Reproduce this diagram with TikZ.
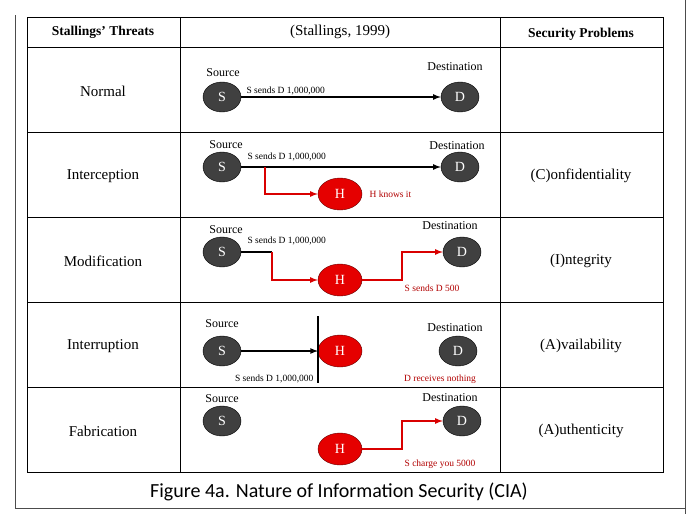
\documentclass[tikz,border=0pt]{standalone}
\usepackage{fontspec}
\setmainfont{Liberation Serif}
\newfontfamily\capfont{Carlito}
\begin{document}
\begin{tikzpicture}[x=1pt,y=-1pt,
  nd/.style={ellipse,draw=black,fill=black!75,text=white,minimum width=38,minimum height=30,inner sep=0,font=\fontsize{14}{14}\selectfont},
  hn/.style={ellipse,draw=black!60!red,fill=red!90!black,text=white,minimum width=44,minimum height=32,inner sep=0,font=\fontsize{14}{14}\selectfont},
  lab/.style={font=\fontsize{12}{12}\selectfont},
  sm/.style={font=\fontsize{9.5}{9.5}\selectfont},
  smr/.style={font=\fontsize{9.5}{9.5}\selectfont,text=red!70!black},
  bl/.style={line width=1.6pt,-latex},
  rd/.style={line width=1.6pt,red!85!black,-latex},
  cell/.style={font=\fontsize{15}{15}\selectfont}]
\usetikzlibrary{shapes.geometric}
\useasboundingbox (0,0) rectangle (700,514);
\fill[white] (0,0) rectangle (700,514);
% outer frame
\draw[black!70] (15,15) -- (15,508) -- (685,508);
\draw[black!70] (685,0) -- (685,514);
% table
\draw[line width=0.8pt] (27,17) rectangle (663,472);
\foreach \x in {180,500} \draw[line width=0.8pt] (\x,17) -- (\x,472);
\foreach \y in {47,132,217,302,387} \draw[line width=0.8pt] (27,\y) -- (663,\y);
\node[cell,font=\bfseries\fontsize{13.5}{13.5}\selectfont] (h1) at (103,32) {Stallings’ Threats};
\node[cell] (h2) at (340,32) {(Stallings, 1999)};
\node[cell,font=\bfseries\fontsize{13.5}{13.5}\selectfont] (h3) at (581,34) {Security Problems};
\node[cell] (r1) at (103,91) {Normal};
\node[cell] (r2) at (103,176) {Interception};
\node[cell] (r3) at (103,261) {Modification};
\node[cell] (r4) at (103,346) {Interruption};
\node[cell] (r5) at (103,431) {Fabrication};
\node[cell] (p2) at (581,176) {(C)onfidentiality};
\node[cell] (p3) at (581,261) {(I)ntegrity};
\node[cell] (p4) at (581,346) {(A)vailability};
\node[cell] (p5) at (581,431) {(A)uthenticity};
% Normal
\node[nd] (s1) at (222,97) {S};
\node[nd] (d1) at (460,97) {D};
\node[lab] (ls1) at (223,73) {Source};
\node[lab] (ld1) at (455,67) {Destination};
\draw[bl] (s1) -- (d1);
\node[sm,anchor=west] (t1) at (243,91) {S sends D 1,000,000};
% Interception
\node[nd] (s2) at (222,167) {S};
\node[nd] (d2) at (460,167) {D};
\node[hn] (h2n) at (340,194) {H};
\node[lab] (ls2) at (226,145) {Source};
\node[lab] (ld2) at (457,146) {Destination};
\draw[bl] (s2) -- (d2);
\node[sm,anchor=west] (t2) at (244,157) {S sends D 1,000,000};
\coordinate (c2) at (265,167);
\draw[rd] (c2) |- (h2n);
\node[smr,anchor=west] (k2) at (366,194) {H knows it};
% Modification
\node[nd] (s3) at (222,252) {S};
\node[hn] (h3n) at (340,280) {H};
\node[nd] (d3) at (462,252) {D};
\node[lab] (ls3) at (226,230) {Source};
\node[lab] (ld3) at (450,226) {Destination};
\node[sm,anchor=west] (t3) at (244,241) {S sends D 1,000,000};
\coordinate (c3) at (272,252);
\draw[line width=1.6pt] (s3) -- (c3);
\draw[rd] (c3) |- (h3n);
\coordinate (c3b) at (402,280);
\draw[rd] (h3n) -- (c3b) |- (d3);
\node[smr] (k3) at (432,288) {S sends D 500};
% Interruption
\node[nd] (s4) at (222,351) {S};
\node[hn] (h4n) at (340,351) {H};
\node[nd] (d4) at (458,351) {D};
\node[lab] (ls4) at (222,324) {Source};
\node[lab] (ld4) at (455,328) {Destination};
\coordinate (w1) at (318,316);
\coordinate (w2) at (318,383);
\draw[bl] (s4) -- (w1 |- s4);
\draw[line width=1.6pt] (w1) -- (w2);
\node[sm,anchor=east] (t4) at (317,379) {S sends D 1,000,000};
\node[smr] (k4) at (440,379) {D receives nothing};
% Fabrication
\node[nd] (s5) at (222,421) {S};
\node[nd] (d5) at (462,421) {D};
\node[hn] (h5n) at (340,449) {H};
\node[lab] (ls5) at (222,399) {Source};
\node[lab] (ld5) at (450,398) {Destination};
\coordinate (c5) at (402,449);
\draw[rd] (h5n) -- (c5) |- (d5);
\node[smr] (k5) at (440,464) {S charge you 5000};
% caption
\node[font=\capfont\fontsize{20}{20}\selectfont] (cap) at (339,492) {Figure 4a. Nature of Information Security (CIA)};
\end{tikzpicture}
\end{document}
